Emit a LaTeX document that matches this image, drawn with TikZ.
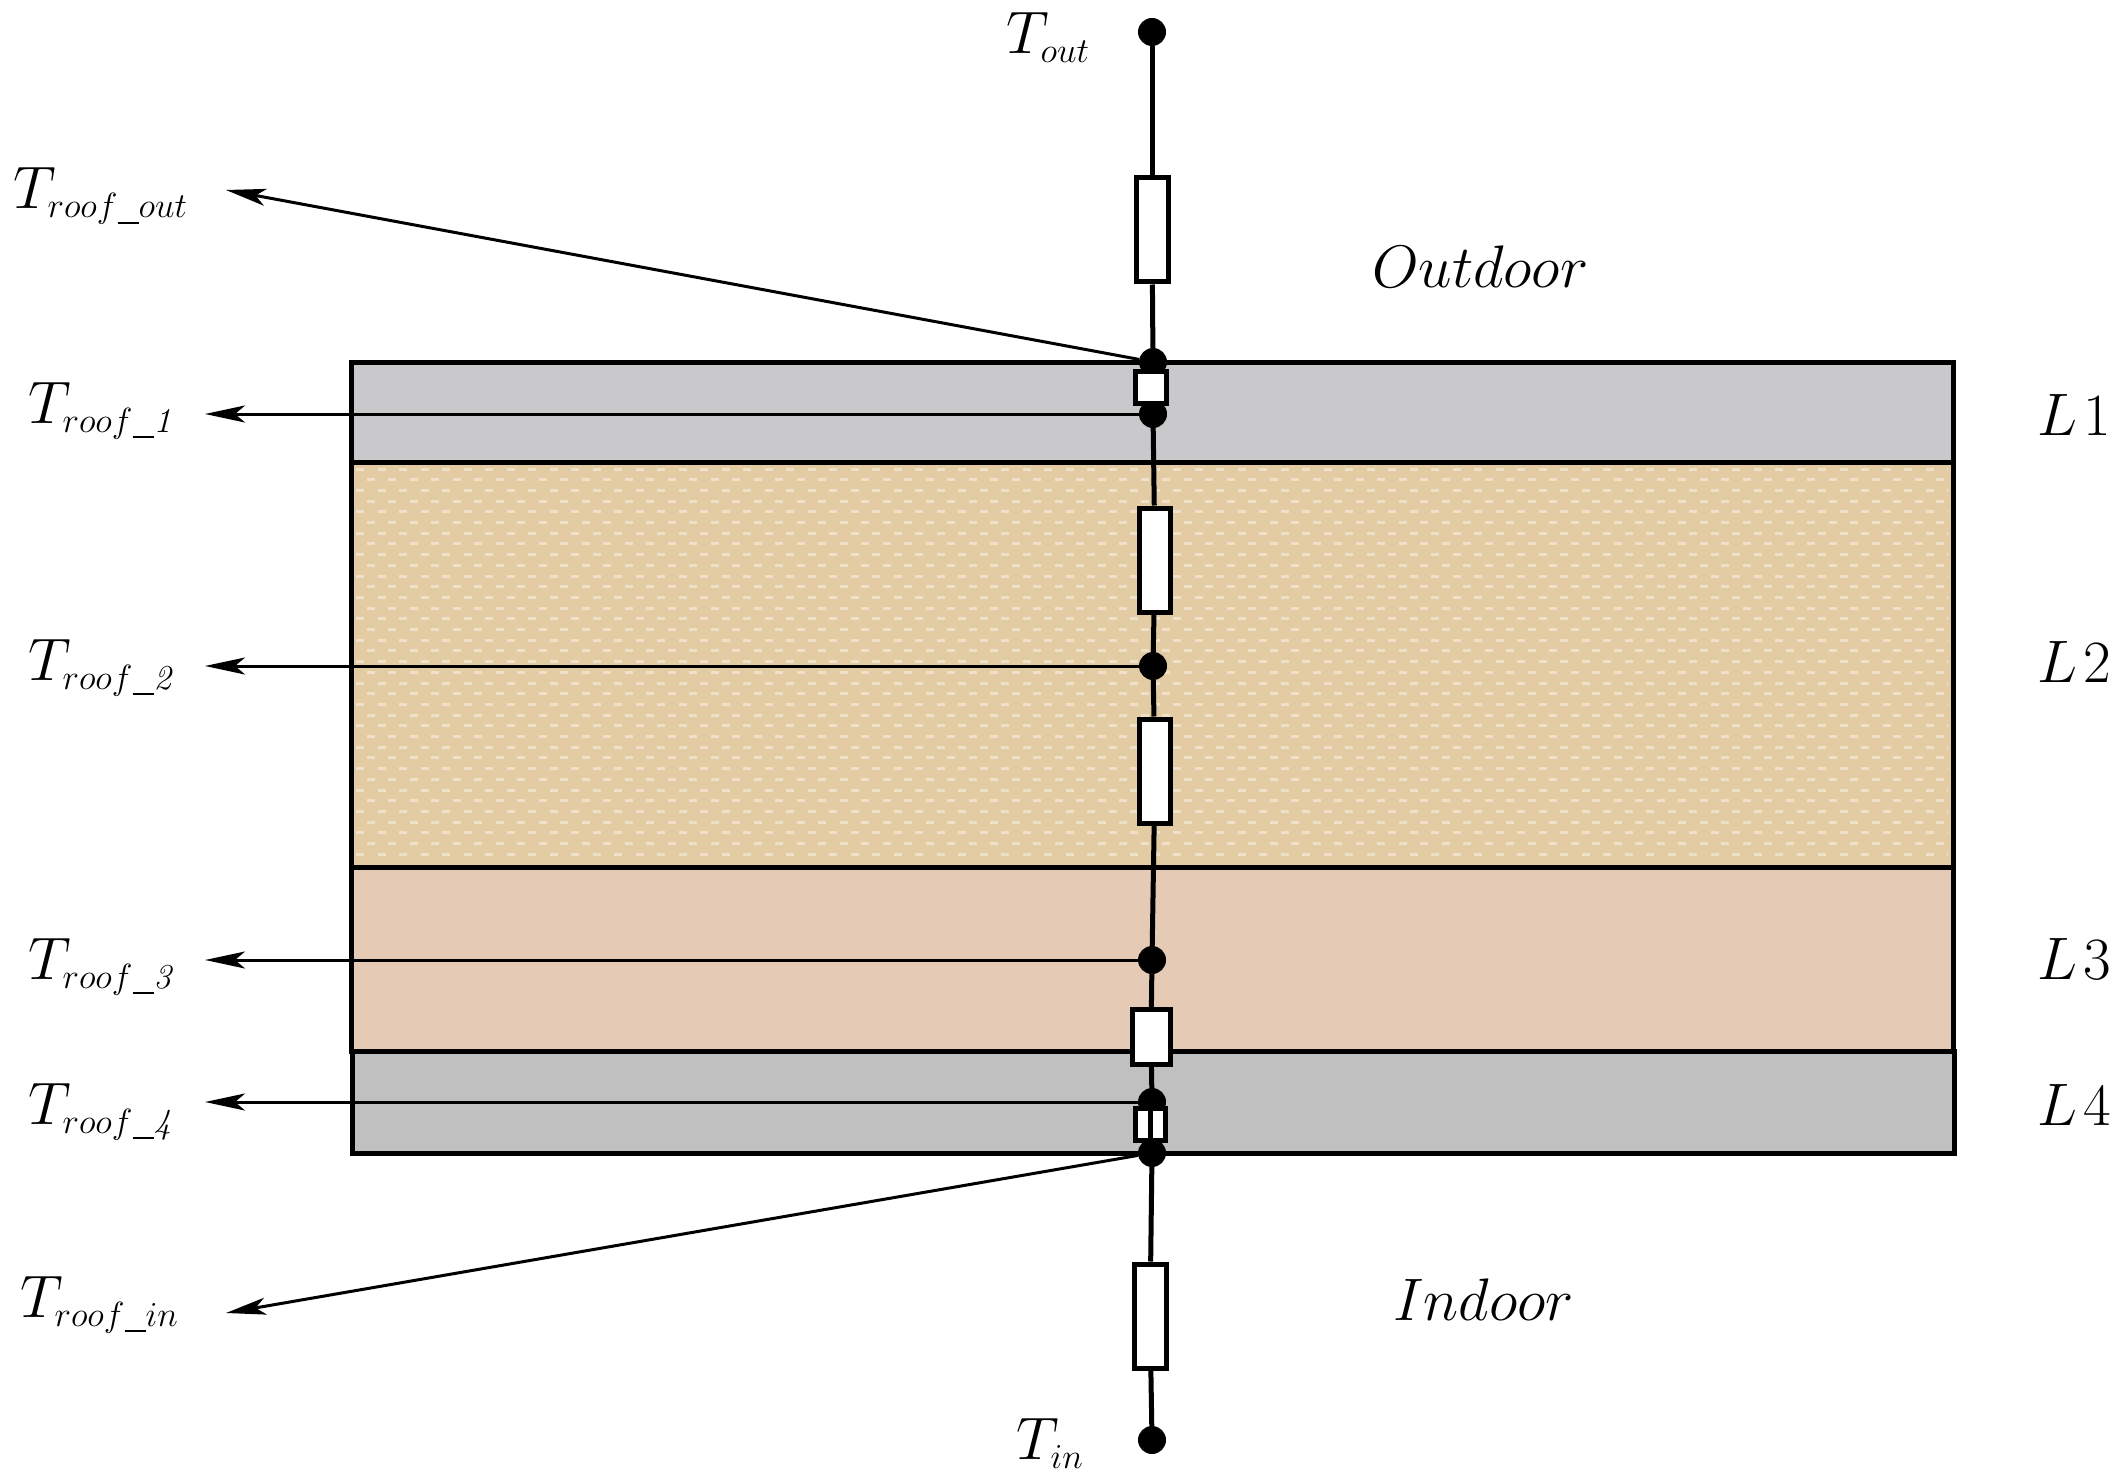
\documentclass[tikz,border=0pt]{standalone}
\usepackage{fix-cm}
\usepackage{xcolor}
\usetikzlibrary{arrows.meta}
\definecolor{layergray}{HTML}{C9C9CB}
\definecolor{layersand}{HTML}{E3CCA4}
\definecolor{sanddash}{HTML}{EFE1C9}
\definecolor{layerclay}{HTML}{E5CAB6}
\definecolor{layerdark}{HTML}{C0C0C0}
\DeclareMathSizes{60}{60}{35}{25}
\newcommand{\subbar}{\rule[-6pt]{21pt}{2.4pt}}
\begin{document}
\begin{tikzpicture}[x=1pt, y=-1pt]
\tikzstyle{layerbox} = [rectangle, draw, line width=5pt, minimum width=1602pt, inner sep=0pt]
\tikzstyle{resistor} = [rectangle, draw, fill=white, line width=5pt, inner sep=0pt]
\tikzstyle{junction} = [circle, fill=black, minimum size=28pt, inner sep=0pt]
\tikzstyle{wire} = [line width=5pt]
\tikzstyle{flow} = [line width=3pt, -{Stealth[length=40pt, width=17pt, inset=10pt]}]
\tikzstyle{lbl} = [anchor=base west, inner sep=0pt, font=\fontsize{60}{70}\selectfont]
\useasboundingbox (0,0) rectangle (2118,1479);
\fill[white] (0,0) rectangle (2118,1479);

% layers
\node (lone) [layerbox, fill=layergray, minimum height=100pt] at (1152,412) {};
\node (ltwo) [layerbox, fill=layersand, minimum height=405pt] at (1152,664.5) {};
\node (lthree) [layerbox, fill=layerclay, minimum height=184pt] at (1152,959) {};
\node (lfour) [layerbox, fill=layerdark, minimum height=102pt] at (1153,1102) {};

% light dashes of the second layer
\foreach \i in {0,...,36} {
  \pgfmathsetmacro{\rowy}{469+10.7*\i}
  \pgfmathsetmacro{\rowphase}{mod(\i,2)*10.75}
  \draw[sanddash, line width=3pt, dash pattern=on 8pt off 13.5pt, dash phase=\rowphase pt] (356,\rowy) -- (1948,\rowy);
}

% junctions
\node (tout) [junction] at (1152,32) {};
\node (jone) [junction] at (1153,362) {};
\node (jtwo) [junction] at (1153,414) {};
\node (jthree) [junction] at (1153,666) {};
\node (jfour) [junction] at (1152,960) {};
\node (jfive) [junction] at (1152,1102) {};
\node (jsix) [junction] at (1152,1153) {};
\node (tin) [junction] at (1152,1440) {};

% resistors
\node (rone) [resistor, minimum width=32pt, minimum height=104pt] at (1152,230) {};
\node (rtwo) [resistor, minimum width=31pt, minimum height=32pt] at (1151,387) {};
\node (rthree) [resistor, minimum width=31pt, minimum height=104pt] at (1155,560) {};
\node (rfour) [resistor, minimum width=31pt, minimum height=104pt] at (1155,771) {};
\node (rfive) [resistor, minimum width=38pt, minimum height=55pt] at (1151,1037) {};
\node (rsix) [resistor, minimum width=30pt, minimum height=32pt] at (1150,1124) {};
\node (rseven) [resistor, minimum width=32pt, minimum height=104pt] at (1150,1316) {};
\draw[wire] (rsix.north) -- (rsix.south);

% wire
\draw[wire] (tout) -- (rone);
\draw[wire] (rone) -- (jone);
\draw[wire] (jtwo) -- (rthree);
\draw[wire] (rthree) -- (jthree);
\draw[wire] (jthree) -- (rfour);
\draw[wire] (rfour) -- (jfour);
\draw[wire] (jfour) -- (rfive);
\draw[wire] (rfive) -- (jfive);
\draw[wire] (jsix) -- (rseven);
\draw[wire] (rseven) -- (tin);

% free ends of the arrows
\coordinate (aone) at (226,190);
\coordinate (atwo) at (205,414);
\coordinate (athree) at (205,666);
\coordinate (afour) at (205,960);
\coordinate (afive) at (205,1102);
\coordinate (asix) at (226,1313);
\draw[flow] (jone) -- (aone);
\draw[flow] (jtwo) -- (atwo);
\draw[flow] (jthree) -- (athree);
\draw[flow] (jfour) -- (afour);
\draw[flow] (jfive) -- (afive);
\draw[flow] (jsix) -- (asix);

% labels
\node (ltout) [lbl] at (1006,54) {$T_{out}$};
\node (ltin) [lbl] at (1016,1459) {$T_{in}$};
\node (ltrout) [lbl] at (13,209) {$T_{roof\subbar out}$};
\node (ltrone) [lbl] at (28,423) {$T_{roof\subbar\mathit{1}}$};
\node (ltrtwo) [lbl] at (28,680) {$T_{roof\subbar\mathit{2}}$};
\node (ltrthree) [lbl] at (28,979) {$T_{roof\subbar\mathit{3}}$};
\node (ltrfour) [lbl] at (28,1124) {$T_{roof\subbar\mathit{4}}$};
\node (ltrin) [lbl] at (20,1317) {$T_{roof\subbar in}$};
\node (outdoor) [lbl] at (1372,288) {$Outdoor$};
\node (indoor) [lbl] at (1393,1320) {$Indoor$};
\node (lblone) [lbl] at (2037,435) {$L\kern6pt 1$};
\node (lbltwo) [lbl] at (2037,682) {$L\kern6pt 2$};
\node (lblthree) [lbl] at (2037,979) {$L\kern6pt 3$};
\node (lblfour) [lbl] at (2037,1125) {$L\kern6pt 4$};
\end{tikzpicture}
\end{document}
